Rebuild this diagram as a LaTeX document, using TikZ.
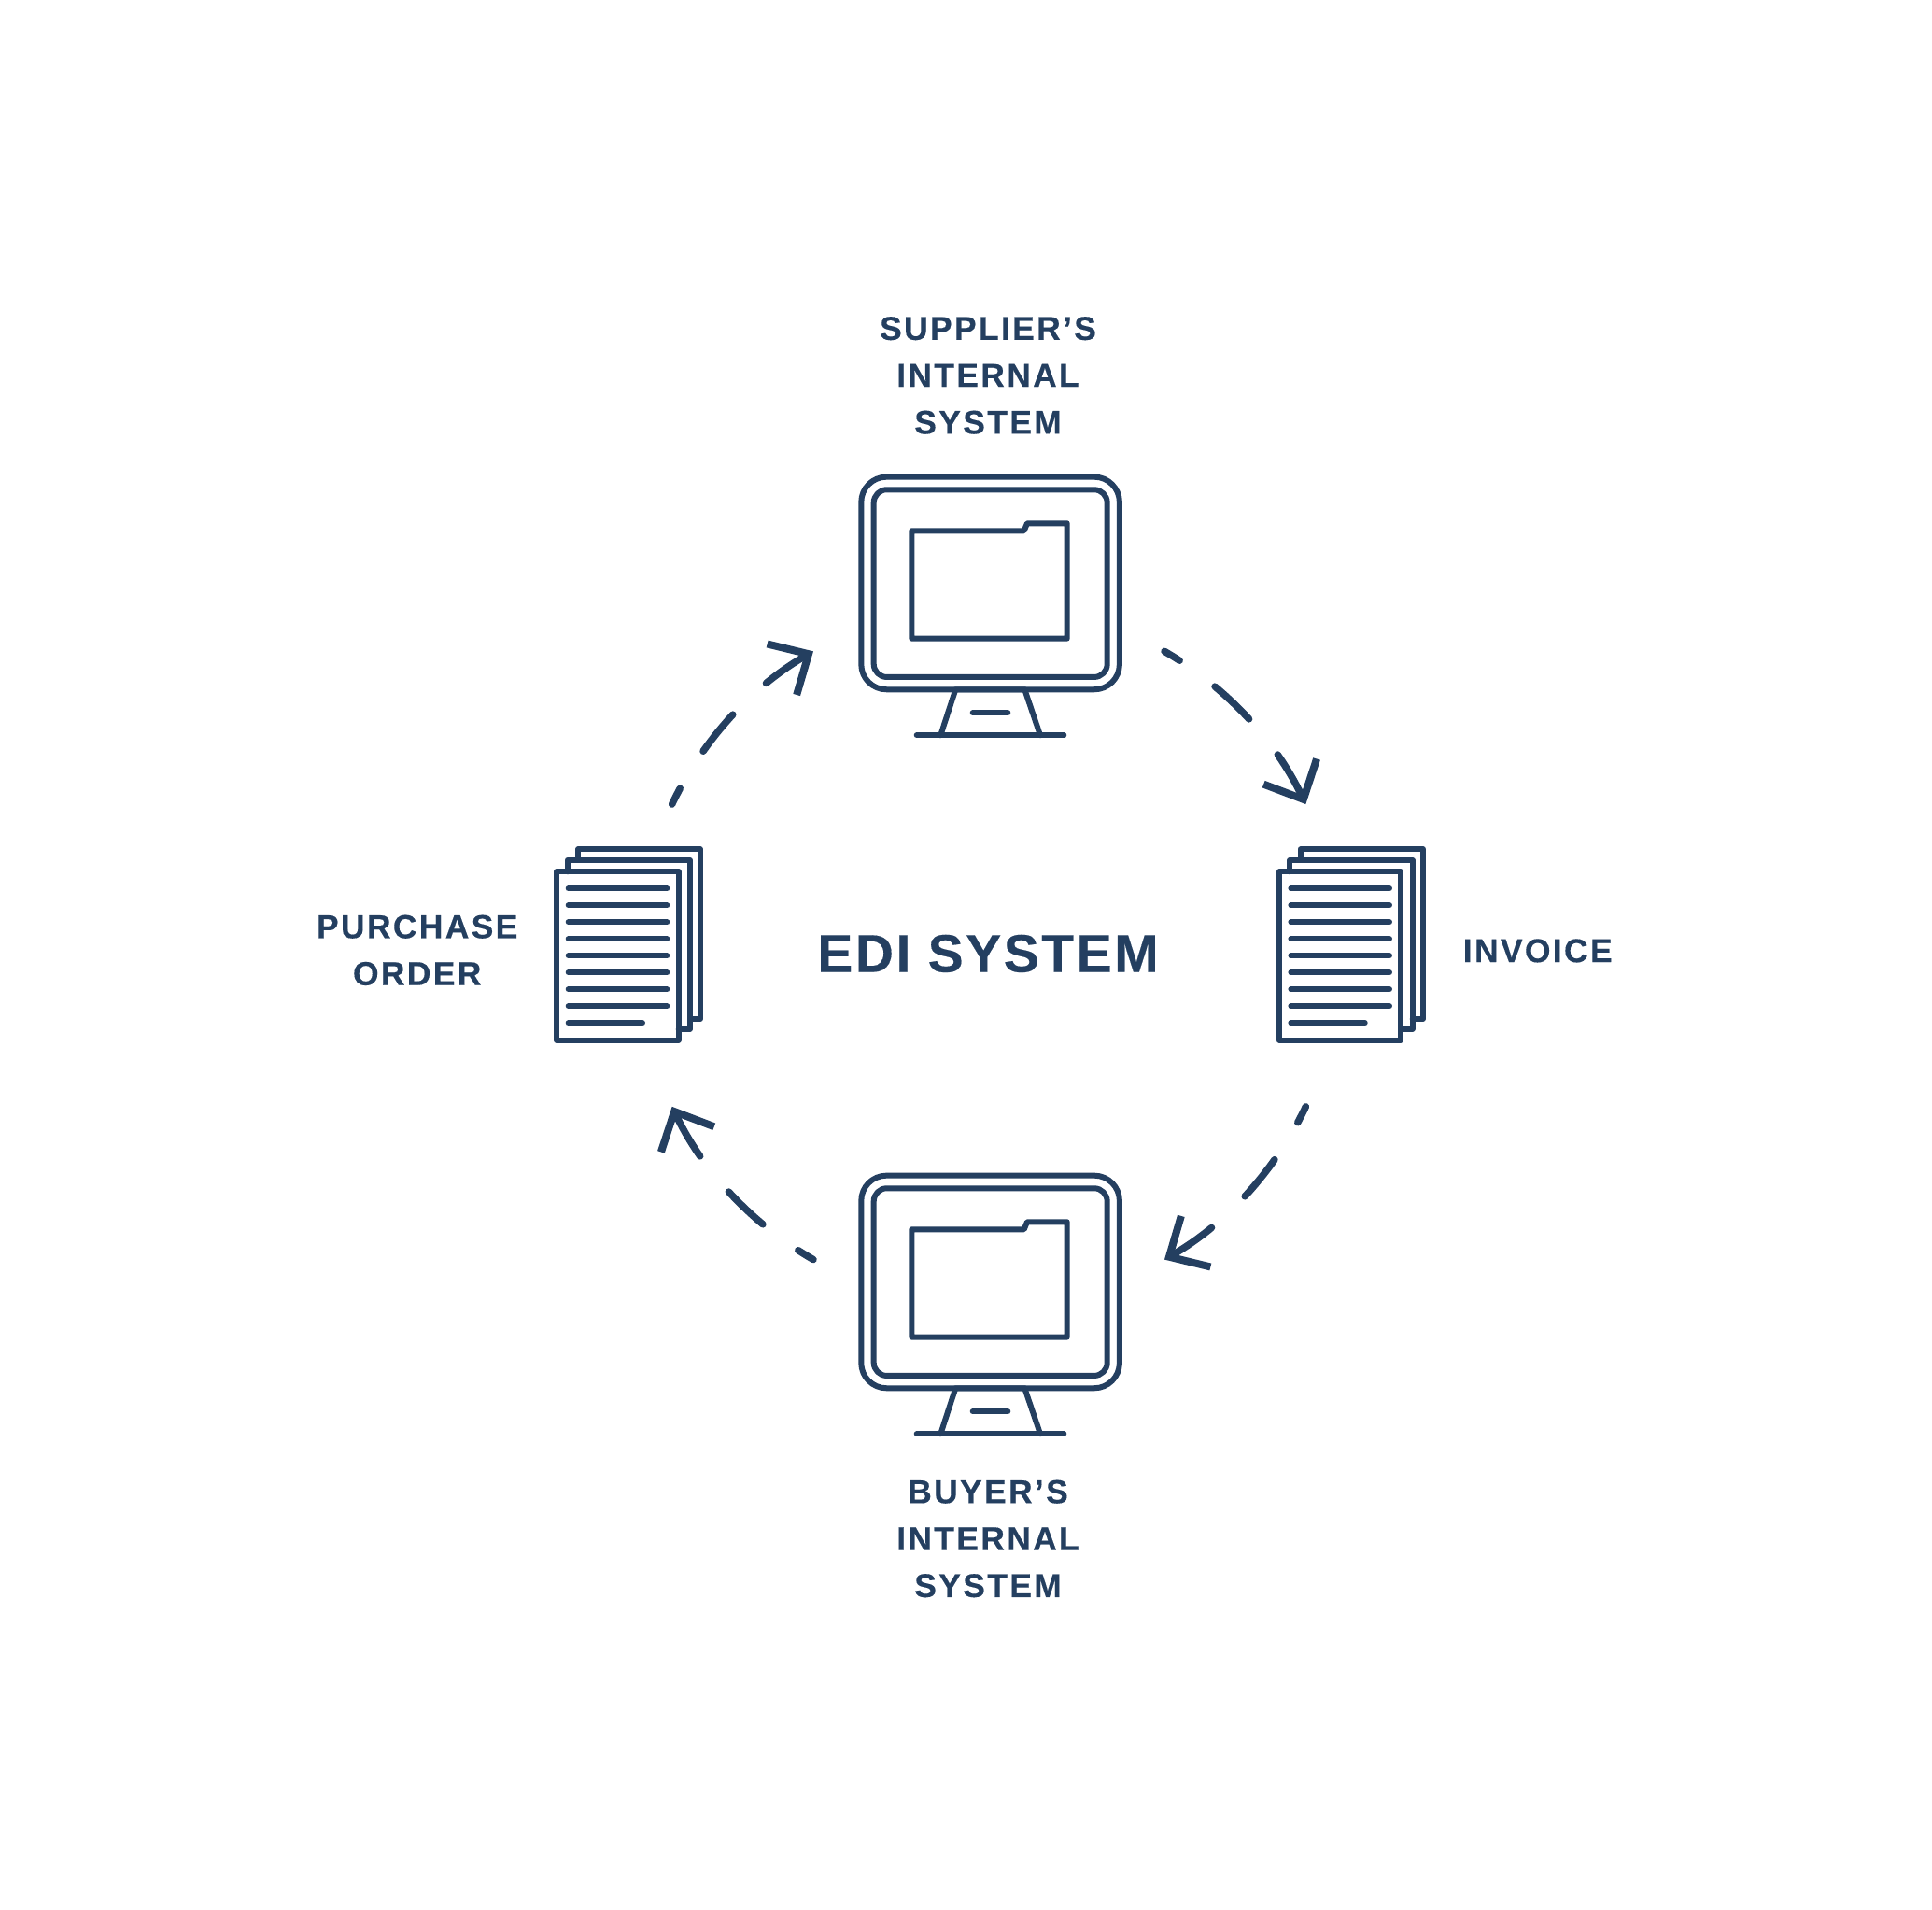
\documentclass[tikz,border=0pt]{standalone}
\usepackage{fontspec}
\usetikzlibrary{arrows.meta}
\newfontfamily\labelfont[LetterSpace=6.5,FakeBold=0.3]{Liberation Sans Bold}
\newfontfamily\titlefont[LetterSpace=4.5,FakeBold=0.3]{Liberation Sans Bold}
\definecolor{edinavy}{HTML}{243F60}
\tikzset{
	icon/.style={draw=edinavy,line width=0.06cm,line join=round,line cap=round},
	flowline/.style={icon,line width=0.075cm,dash pattern=on 0.19cm off 0.47cm on 0.505cm off 0.49cm on 3cm,
		-{Straight Barb[length=0.33cm,width=0.63cm,line width=0.08cm]}},
	boxlabel/.style={text=edinavy,align=center,inner sep=0pt,font=\labelfont\fontsize{10.1}{14.3}\selectfont},
}
\begin{document}
\begin{tikzpicture}
	\useasboundingbox (0,0) rectangle (20.69,20.45);
	% Monitors
	\foreach \ypos in {14.205,6.725} {
		\begin{scope}[shift={(10.606,\ypos)}]
			\draw [icon,rounded corners=0.27cm] (-1.383,-1.138) rectangle (1.383,1.138);
			\draw [icon,rounded corners=0.14cm] (-1.249,-1.005) rectangle (1.251,1.002);
			\draw [icon] (-0.843,-0.592) -- (-0.843,0.562) -- (0.361,0.562) -- (0.394,0.642) -- (0.821,0.642) -- (0.821,-0.592) -- cycle;
			\draw [icon] (-0.533,-1.628) -- (-0.373,-1.138) -- (0.367,-1.138) -- (0.534,-1.628);
			\draw [icon] (-0.789,-1.628) -- (0.787,-1.628);
			\draw [icon] (-0.189,-1.388) -- (0.187,-1.388);
		\end{scope}
	}
	% Documents
	\foreach \xpos in {5.96,13.697} {
		\begin{scope}[shift={(\xpos,11.117)}]
			\draw [icon] (0.23,0.123) -- (0.23,0.24) -- (1.54,0.24) -- (1.54,-1.577) -- (1.43,-1.577);
			\draw [icon] (0.117,0) -- (0.117,0.123) -- (1.43,0.123) -- (1.43,-1.684) -- (1.307,-1.684);
			\draw [icon] (0,0) rectangle (1.307,-1.804);
			\foreach \n in {1,...,8}
				\draw [icon] (0.127,-0.18*\n) -- (1.183,-0.18*\n);
			\draw [icon] (0.127,-1.62) -- (0.92,-1.62);
		\end{scope}
	}
	% Flow arrows
	\coordinate (hub) at (10.59,10.22);
	\foreach \nm/\ang in {toinvoice/60,tosupplier/154.5,toorder/240,tobuyer/334.5} {
		\path (hub) ++(\ang:3.76) coordinate (\nm);
		\draw [flowline] (\nm) arc [start angle=\ang,delta angle=-34.5,radius=3.76];
	}
	% Labels
	\node (supplier) [boxlabel] at (10.58,16.43) {SUPPLIER’S\\INTERNAL\\SYSTEM};
	\node (buyer) [boxlabel] at (10.58,3.975) {BUYER’S\\INTERNAL\\SYSTEM};
	\node (order) [boxlabel] at (4.467,10.276) {PURCHASE\\ORDER};
	\node (invoice) [boxlabel] at (16.467,10.27) {INVOICE};
	\node (edi) [text=edinavy,inner sep=0pt,font=\titlefont\fontsize{16.2}{20}\selectfont] at (10.58,10.24) {EDI SYSTEM};
\end{tikzpicture}
\end{document}
